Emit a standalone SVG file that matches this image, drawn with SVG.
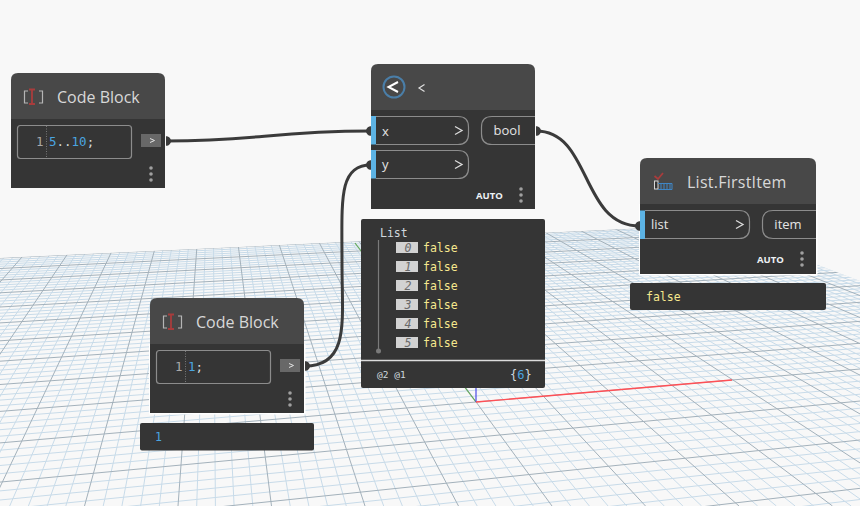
<svg xmlns="http://www.w3.org/2000/svg" width="860" height="506" viewBox="0 0 860 506">
<style>
.node{fill:#353535}
.head{fill:#484848}
.edge{fill:#fff}
.pill{fill:none;stroke:#8c8c8c;stroke-width:1.2}
.bar{fill:#5cb3e4}
.box{fill:none;stroke:#8c8c8c;stroke-width:1.2}
.arrowbox{fill:#686868}
.dot{fill:#a0a0a0}
.title{font-family:"Open Sans","Noto Sans",sans-serif;font-size:16px;fill:#d8d8d8}
.wide{letter-spacing:.25px}
.lab{font-family:"Open Sans","Noto Sans",sans-serif;font-size:13px;fill:#e4e4e4}
.auto{font-family:"Open Sans","Noto Sans",sans-serif;font-size:9.5px;font-weight:700;fill:#eef2f6}
.mono{font-family:"DejaVu Sans Mono","Liberation Mono",monospace;font-size:11.5px}
.code{font-family:"DejaVu Sans Mono","Liberation Mono",monospace;font-size:12.5px}
.ln{fill:#a8a8a8}
.blue{fill:#4aa5e0}
.pale{fill:#d0d8de}
.false{fill:#f6e88e}
.idx{font-family:"DejaVu Sans Mono","Liberation Mono",monospace;font-size:11.5px;font-style:italic;fill:#6a6a6a;text-anchor:middle}
.ib{fill:#d2d2d2}
.wire{fill:none;stroke:#3b3b3b;stroke-width:3;marker-start:url(#knobOut);marker-end:url(#knobIn)}
.minor{fill:none;stroke:#c8dbe9;stroke-width:1}
.major{fill:none;stroke:#a3b1bb;stroke-width:1}
</style>
<defs>
<clipPath id="gridClip"><polygon points="0,258 712,225 860,281 860,506 0,506"/></clipPath>
<marker id="knobOut" markerUnits="userSpaceOnUse" markerWidth="8" markerHeight="12" refX="0" refY="6" orient="0"><path d="M0 1.2C3 1.2 5 3.5 5 6S3 10.8 0 10.8Z" fill="#3b3b3b"/></marker>
<marker id="knobIn" markerUnits="userSpaceOnUse" markerWidth="8" markerHeight="12" refX="6" refY="6" orient="0"><path d="M6 1.2C3 1.2 1 3.5 1 6S3 10.8 6 10.8Z" fill="#3b3b3b"/></marker>
<g id="dots"><circle cx="0" cy="0" r="1.8" class="dot"/><circle cx="0" cy="6" r="1.8" class="dot"/><circle cx="0" cy="12" r="1.8" class="dot"/></g>
<g id="cbIcon"><path d="M6 1H2.5V13H6M17 1H20.5V13H17" fill="none" stroke="#b5b5b5" stroke-width="1.2"/><path d="M7 -.5H13M7 14H13M10 -.5V14" fill="none" stroke="#a83c3c" stroke-width="1.8"/></g>
</defs>
<rect width="860" height="506" fill="#f8f8f8"/>
<g id="grid" clip-path="url(#gridClip)">
<path class="minor" d="M0 436.2L4690 40M0 429.7L4690 40M0 423.4L4690 40M0 417.3L4690 40M0 405.7L4690 40M0 400.1L4690 40M0 394.8L4690 40M0 389.5L4690 40M0 379.5L4690 40M0 374.8L4690 40M0 370.1L4690 40M0 365.6L4690 40M0 356.9L4690 40M0 352.7L4690 40M0 348.7L4690 40M0 344.7L4690 40M0 337.1L4690 40M0 333.4L4690 40M0 329.8L4690 40M0 326.3L4690 40M0 319.6L4690 40M0 316.3L4690 40M0 313.2L4690 40M0 310.1L4690 40M0 304.1L4690 40M0 301.1L4690 40M0 298.3L4690 40M0 295.5L4690 40M0 290.1L4690 40M0 287.5L4690 40M0 285L4690 40M0 282.5L4690 40M0 277.6L4690 40M0 275.3L4690 40M0 273L4690 40M0 270.7L4690 40M0 266.3L4690 40M0 264.2L4690 40M0 262.1L4690 40M0 260L4690 40M0 450.2L4690 40M0 457.7L4690 40M0 465.5L4690 40M0 473.7L4690 40M0 490.9L4690 40M0 500L4690 40M0 509.6L4690 40M0 519.5L4690 40M0 540.6L4690 40M0 551.9L4690 40M0 563.7L4690 40M0 576.1L4690 40M0 602.7L4690 40M0 616.9L4690 40"/>
<path class="minor" d="M212 40L-233.4 506M212 40L-214.7 506M212 40L-177.3 506M212 40L-158.6 506M212 40L-139.9 506M212 40L-121.2 506M212 40L-83.8 506M212 40L-65.1 506M212 40L-46.4 506M212 40L-27.7 506M212 40L9.7 506M212 40L28.4 506M212 40L47.1 506M212 40L65.8 506M212 40L103.2 506M212 40L121.9 506M212 40L140.6 506M212 40L159.3 506M212 40L196.7 506M212 40L215.4 506M212 40L234.1 506M212 40L252.8 506M212 40L290.2 506M212 40L308.9 506M212 40L327.6 506M212 40L346.3 506M212 40L383.7 506M212 40L402.4 506M212 40L421.1 506M212 40L439.8 506M212 40L477.2 506M212 40L495.9 506M212 40L514.6 506M212 40L533.3 506M212 40L570.7 506M212 40L589.4 506M212 40L608.1 506M212 40L626.8 506M212 40L664.2 506M212 40L682.9 506M212 40L701.6 506M212 40L720.3 506M212 40L757.7 506M212 40L776.4 506M212 40L795.1 506M212 40L813.8 506M212 40L851.2 506M212 40L869.9 506M212 40L888.6 506M212 40L907.3 506M212 40L944.7 506M212 40L963.4 506M212 40L982.1 506M212 40L1000.8 506M212 40L1038.2 506M212 40L1056.9 506M212 40L1075.6 506M212 40L1094.3 506M212 40L1131.7 506M212 40L1150.4 506M212 40L1169.1 506M212 40L1187.8 506M212 40L1225.2 506M212 40L1243.9 506M212 40L1262.6 506M212 40L1281.3 506M212 40L1318.7 506M212 40L1337.4 506M212 40L1356.1 506M212 40L1374.8 506M212 40L1412.2 506M212 40L1430.9 506M212 40L1449.6 506M212 40L1468.3 506"/>
<path class="major" d="M0 442.9L4690 40M0 411.4L4690 40M0 384.5L4690 40M0 361.2L4690 40M0 340.8L4690 40M0 322.9L4690 40M0 307L4690 40M0 292.8L4690 40M0 280L4690 40M0 268.5L4690 40M0 258L4690 40M0 482.1L4690 40M0 529.8L4690 40M0 589L4690 40"/>
<path class="major" d="M212 40L-196 506M212 40L-102.5 506M212 40L-9 506M212 40L84.5 506M212 40L178 506M212 40L271.5 506M212 40L365 506M212 40L458.5 506M212 40L552 506M212 40L645.5 506M212 40L739 506M212 40L832.5 506M212 40L926 506M212 40L1019.5 506M212 40L1113 506M212 40L1206.5 506M212 40L1300 506M212 40L1393.5 506M212 40L1487 506"/>
</g>
<g id="axes">
<path d="M476 402L355 243" fill="none" stroke="#62a85a" stroke-width="1.2"/>
<path d="M476 402V380" fill="none" stroke="#4a4ae6" stroke-width="1.2"/>
<path d="M476 402L732 380" fill="none" stroke="#ff5056" stroke-width="1.4"/>
</g>
<g id="node-codeblock-1">
<path class="node" d="M11 119H165V188H11Z"/>
<path class="head" d="M11 119V80Q11 73 18 73H158Q165 73 165 80V119Z"/>
<use href="#cbIcon" x="22" y="90"/>
<text class="title" x="57" y="103">Code Block</text>
<rect class="box" x="17.5" y="125.5" width="114" height="33" rx="3"/>
<path d="M46.5 126V158" stroke="#777" stroke-width="1" stroke-dasharray="1 1.5"/>
<text class="code ln" x="36" y="145.500">1</text>
<text class="code" x="49" y="145.500"><tspan class="blue">5</tspan><tspan class="pale">..</tspan><tspan class="blue">10</tspan><tspan class="pale">;</tspan></text>
<rect class="arrowbox" x="141" y="134" width="20" height="13"/>
<path d="M150 138.500L154.500 140.500L150 142.500" fill="none" stroke="#e4e4e4" stroke-width="1"/>
<use href="#dots" x="151" y="168"/>
</g>
<g id="node-less-than">
<path class="node" d="M371 110H535V209H371Z"/>
<path class="head" d="M371 110V71Q371 64 378 64H528Q535 64 535 71V110Z"/>
<circle cx="394" cy="87" r="10.500" fill="none" stroke="#4a7ea8" stroke-width="2"/>
<path d="M398 82L388.500 87L398 92" fill="none" stroke="#fff" stroke-width="2"/>
<path d="M424.500 84.500L419 88L424.500 91.500" fill="none" stroke="#e0e0e0" stroke-width="1.2"/>
<rect class="bar" x="371" y="116" width="5" height="28.500"/>
<path class="pill" d="M376 116.500H458Q468.500 116.500 468.500 127V134Q468.500 144.500 458 144.500H376"/>
<text class="lab" x="382" y="136">x</text>
<path d="M455 126.500L462 130.500L455 134.500" fill="none" stroke="#ddd" stroke-width="1.3"/>
<rect class="bar" x="371" y="150" width="5" height="28.500"/>
<path class="pill" d="M376 150.500H458Q468.500 150.500 468.500 161V168Q468.500 178.500 458 178.500H376"/>
<text class="lab" x="382" y="169">y</text>
<path d="M455 160.500L462 164.500L455 168.500" fill="none" stroke="#ddd" stroke-width="1.3"/>
<path class="pill" d="M535 116.500H492Q481.500 116.500 481.500 127V134Q481.500 144.500 492 144.500H535"/>
<text class="lab" x="507" y="135" text-anchor="middle">bool</text>
<text class="auto" x="476" y="199">AUTO</text>
<use href="#dots" x="521" y="189"/>
</g>
<g id="preview-list">
<rect class="node" x="361" y="219" width="184" height="169" rx="2"/>
<text class="mono pale" x="380" y="237">List</text>
<path d="M378.500 240V351" stroke="#7a7a7a" stroke-width="1.2"/>
<circle cx="378.500" cy="351" r="2.500" fill="#7a7a7a"/>
<rect class="ib" x="396" y="242" width="22" height="11"/><text class="idx" x="408" y="252">0</text><text class="mono false" x="423" y="252">false</text>
<rect class="ib" x="396" y="261" width="22" height="11"/><text class="idx" x="408" y="271">1</text><text class="mono false" x="423" y="271">false</text>
<rect class="ib" x="396" y="280" width="22" height="11"/><text class="idx" x="408" y="290">2</text><text class="mono false" x="423" y="290">false</text>
<rect class="ib" x="396" y="299" width="22" height="11"/><text class="idx" x="408" y="309">3</text><text class="mono false" x="423" y="309">false</text>
<rect class="ib" x="396" y="318" width="22" height="11"/><text class="idx" x="408" y="328">4</text><text class="mono false" x="423" y="328">false</text>
<rect class="ib" x="396" y="337" width="22" height="11"/><text class="idx" x="408" y="347">5</text><text class="mono false" x="423" y="347">false</text>
<path d="M361 360.500H545" stroke="#dcdcdc" stroke-width="1.500"/>
<text class="mono pale" x="377" y="378" style="font-size:9.500px">@2 @1</text>
<text class="mono" x="510" y="379" style="font-size:12px"><tspan class="pale">{</tspan><tspan class="blue">6</tspan><tspan class="pale">}</tspan></text>
</g>
<g id="node-firstitem">
<rect class="edge" x="639" y="204" width="178.500" height="71.500"/>
<path class="node" d="M640 204H816V274H640Z"/>
<path class="head" d="M640 204V165Q640 158 647 158H809Q816 158 816 165V204Z"/>
<path d="M654.500 176L658 179L663 173" fill="none" stroke="#a83c3c" stroke-width="1.800"/>
<rect x="654.500" y="181" width="3.500" height="8" fill="#353535" stroke="#d8d8d8" stroke-width="1"/>
<path d="M658 183.500H672V189.500H658M661 183.500V189.500M664 183.500V189.500M667 183.500V189.500M670 183.500V189.500" fill="none" stroke="#3f86c6" stroke-width="1"/>
<text class="title wide" x="687" y="188">List.FirstItem</text>
<rect class="bar" x="640" y="210.500" width="5" height="28.500"/>
<path class="pill" d="M645 210.500H739Q749.500 210.500 749.500 221V228Q749.500 238.500 739 238.500H645"/>
<text class="lab" x="651" y="229">list</text>
<path d="M736 220.500L743 224.500L736 228.500" fill="none" stroke="#ddd" stroke-width="1.300"/>
<path class="pill" d="M816 210.500H773Q762.500 210.500 762.500 221V228Q762.500 238.500 773 238.500H816"/>
<text class="lab" x="788" y="229" text-anchor="middle">item</text>
<text class="auto" x="757" y="263">AUTO</text>
<use href="#dots" x="802" y="253"/>
</g>
<g id="preview-false">
<rect class="node" x="630" y="283" width="196" height="27" rx="2"/>
<text class="mono false" x="646" y="301">false</text>
</g>
<g id="node-codeblock-2">
<rect class="edge" x="149" y="344" width="156.500" height="70.500"/>
<path class="node" d="M150 344H304V413H150Z"/>
<path class="head" d="M150 344V305Q150 298 157 298H297Q304 298 304 305V344Z"/>
<use href="#cbIcon" x="161" y="315"/>
<text class="title" x="196" y="328">Code Block</text>
<rect class="box" x="156.500" y="350.500" width="114" height="33" rx="3"/>
<path d="M185.500 351V383" stroke="#777" stroke-width="1" stroke-dasharray="1 1.500"/>
<text class="code ln" x="175" y="370.500">1</text>
<text class="code" x="188" y="370.500"><tspan class="blue">1</tspan><tspan class="pale">;</tspan></text>
<rect class="arrowbox" x="280" y="359" width="20" height="13"/>
<path d="M289 363.500L293.500 365.500L289 367.500" fill="none" stroke="#e4e4e4" stroke-width="1"/>
<use href="#dots" x="290" y="393"/>
</g>
<g id="preview-one">
<rect class="node" x="140" y="423" width="174" height="27.500" rx="2"/>
<text class="mono blue" x="155" y="441">1</text>
</g>
<g id="connectors">
<path class="wire" d="M166 141C260 141 270 131 371 131"/>
<path class="wire" d="M305 366C350 366 342 320 342 265C342 200 338 165 371 165"/>
<path class="wire" d="M536 131C592 131 580 226 640 226"/>
</g>
</svg>
